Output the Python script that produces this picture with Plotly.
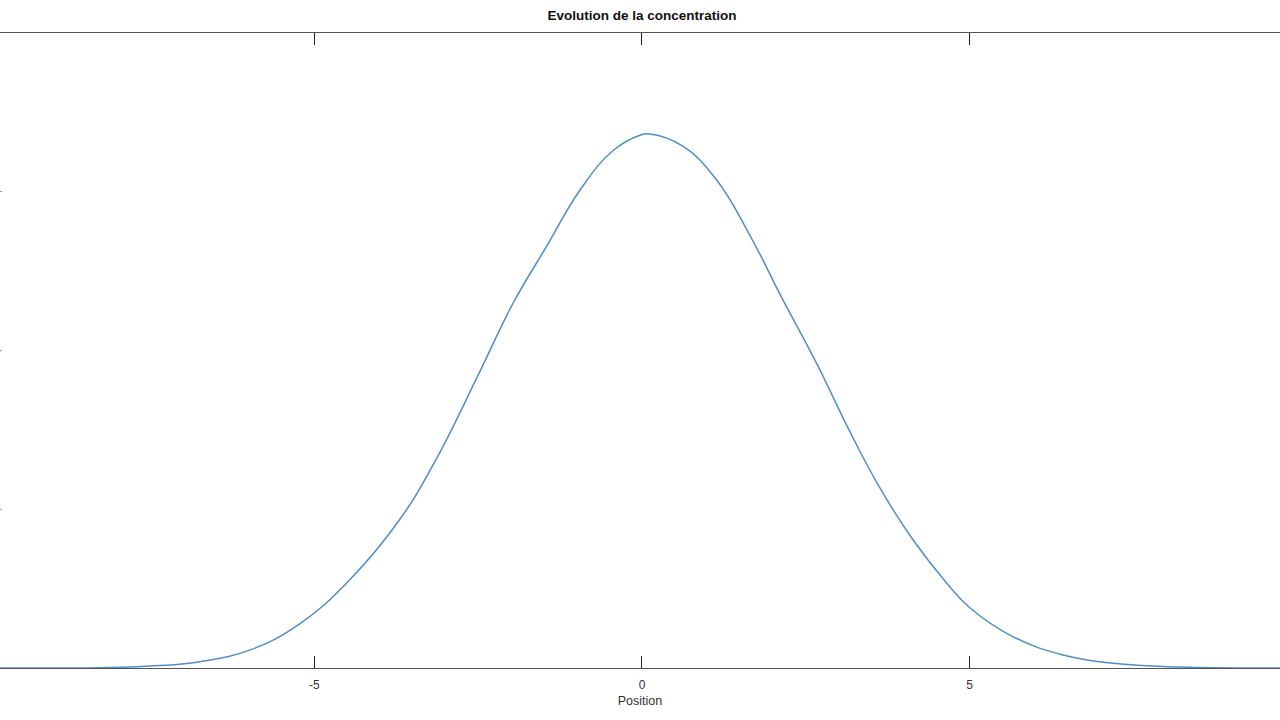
import plotly.graph_objects as go

# curve (position, concentration)
position = [-9.80, -8.27, -7.51, -6.75, -5.98, -5.22, -4.46, -3.69, -3.13, -2.47,
            -1.97, -1.45, -0.95, -0.44, -0.03, 0.12, 0.63, 1.14, 1.65, 2.15,
            2.67, 3.18, 3.63, 4.14, 4.65, 5.01, 5.66, 6.43, 7.19, 8.21, 9.80]
concentration = [0.0000, 0.0001, 0.0006, 0.0020, 0.0057, 0.0140, 0.0278, 0.0470, 0.0662, 0.0936,
                 0.1148, 0.1330, 0.1504, 0.1630, 0.1678, 0.1682, 0.1643, 0.1537, 0.1362, 0.1160,
                 0.0958, 0.0742, 0.0568, 0.0403, 0.0268, 0.0189, 0.0099, 0.0041, 0.0015, 0.0003, 0.0000]

x_ticks = [-5, 0, 5]
y_ticks = [0, 0.05, 0.1, 0.15, 0.2]

fig = go.Figure()
fig.add_trace(go.Scatter(
    x=position, y=concentration,
    mode='lines', line=dict(color='#4f8ec8', width=1.5, shape='spline', smoothing=1.2),
    showlegend=False
))

fig.update_layout(
    width=1280, height=720,
    margin=dict(l=0, r=0, t=33, b=52),
    paper_bgcolor='white', plot_bgcolor='white',
    font=dict(family='Liberation Sans, Arial, sans-serif', size=12, color='#333'),
    title=dict(text='<b>Evolution de la concentration</b>', x=0.5015, xanchor='center',
               y=1 - 15 / 720, yanchor='middle', yref='container',
               font=dict(size=13.5, color='#111')),
)
fig.update_xaxes(
    range=[-9.80, 9.74], tickvals=x_ticks, ticktext=['-5', '0', '5'],
    ticks='inside', ticklen=12, tickcolor='#222', tickwidth=1,
    ticklabelstandoff=5,
    showline=True, linecolor='#555', linewidth=1.2, mirror='ticks',
    showgrid=False, zeroline=False,
    title=dict(text='Position', standoff=5, font=dict(size=12.5, color='#333')),
)
fig.update_yaxes(
    range=[0, 0.2], tickvals=y_ticks, showticklabels=False,
    ticks='inside', ticklen=2, tickcolor='#999',
    showline=False, showgrid=False, zeroline=False,
)

# drop the default page margin so the figure sits at the window's top-left corner
fig.write_html("out.html", config={'displayModeBar': False},
               post_script="document.body.style.margin='0';")
